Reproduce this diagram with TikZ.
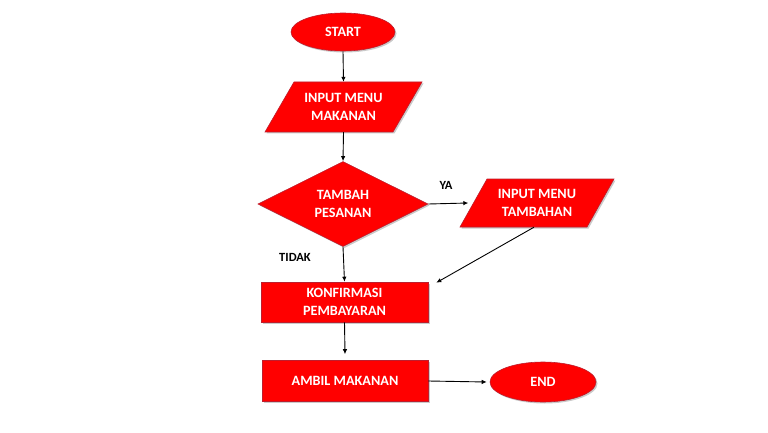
\documentclass[tikz,border=0pt]{standalone}
\usepackage{fontspec}
\setmainfont{Carlito}
\usetikzlibrary{shapes.geometric,arrows.meta,shadows,calc}
\definecolor{boxred}{RGB}{255,0,0}
\definecolor{edgered}{RGB}{190,30,45}
\tikzset{
  txt/.style={text=white,font=\bfseries\fontsize{14.2}{18}\selectfont,align=center,inner sep=0pt},
  shade/.style={drop shadow={shadow xshift=1.5pt,shadow yshift=-1.5pt,fill=black!35,opacity=0.6}},
  base/.style={txt,fill=boxred,draw=edgered,line width=0.6pt,shade},
  pbase/.style={fill=boxred,draw=edgered,line width=0.6pt,shade},
  term/.style={base,ellipse},
  proc/.style={base,rectangle,minimum width=167pt,minimum height=40pt},
  dec/.style={base,diamond,minimum width=170pt,minimum height=85pt},
  conn/.style={line width=0.9pt,-{Latex[length=5pt,width=4.5pt]}},
  lbl/.style={font=\bfseries\fontsize{12.5}{14}\selectfont,text=black}
}
% #1 name, #2 cx, #3 cy, #4 total width, #5 height, #6 slant, #7 text
\newcommand\mypara[7]{%
  \path[pbase] ({#2-#4/2+#6},{#3-#5/2}) -- ({#2+#4/2},{#3-#5/2})
     -- ({#2+#4/2-#6},{#3+#5/2}) -- ({#2-#4/2},{#3+#5/2}) -- cycle;
  \node[txt,minimum width={#4-#6},minimum height=#5] (#1) at (#2,#3) {#7};}
\begin{document}
\begin{tikzpicture}[x=1pt,y=-1pt]
\useasboundingbox (0,0) rectangle (768,433);
\node[term,minimum width=104pt,minimum height=38pt] (start) at (343,32) {START};
\mypara{inmk}{343.5}{107}{157}{50}{29}{INPUT MENU\\MAKANAN}
\node[dec] (tam) at (343,204) {TAMBAH\\PESANAN};
\mypara{intb}{537}{203}{154}{48}{27}{INPUT MENU\\TAMBAHAN}
\node[proc] (konf) at (344.5,302) {KONFIRMASI\\PEMBAYARAN};
\node[proc,minimum width=166pt,minimum height=41pt] (ambil) at (345,381) {AMBIL MAKANAN};
\node[term,minimum width=106pt,minimum height=40pt] (end) at (543,382) {END};
\node[lbl] (ya) at (446,185) {YA};
\node[lbl] (tidak) at (295,257) {TIDAK};
\coordinate (kin) at ($(konf.north east)+(8,1)$);
\coordinate (tout) at ($(intb.south)+(-3,0)$);
\draw[conn] (start.south) -- (inmk.north);
\draw[conn] (inmk.south) -- (tam.north);
\draw[conn] (tam.east) -- ($(intb.west)+(-5,0)$);
\draw[conn] (tam.south) -- (konf.north);
\draw[conn] (tout) -- (kin);
\draw[conn] (konf.south) -- ($(ambil.north)+(0,-6)$);
\draw[conn] (ambil.east) -- ($(end.west)+(-3,0)$);
\end{tikzpicture}
\end{document}
